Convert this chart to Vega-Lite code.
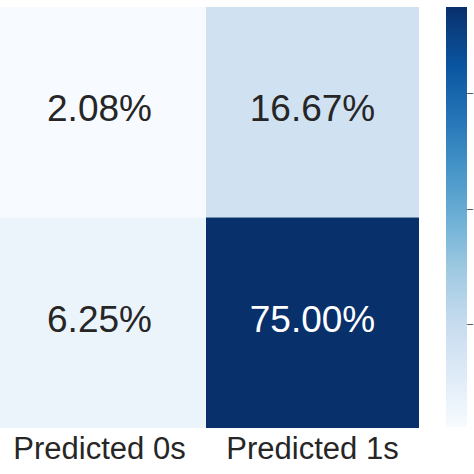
{
  "$schema": "https://vega.github.io/schema/vega-lite/v6.json",
  "width": 426,
  "height": 421,
  "autosize": {"type": "none"},
  "padding": {"left": -7, "top": 7, "right": 55, "bottom": 46},
  "background": "white",
  "config": {"view": {"stroke": null}, "font": "Liberation Sans"},
  "data": {
    "values": [
      {"actual": "Actual 0s", "predicted": "Predicted 0s", "pct": 2.08, "label": "2.08%"},
      {"actual": "Actual 0s", "predicted": "Predicted 1s", "pct": 16.67, "label": "16.67%"},
      {"actual": "Actual 1s", "predicted": "Predicted 0s", "pct": 6.25, "label": "6.25%"},
      {"actual": "Actual 1s", "predicted": "Predicted 1s", "pct": 75.0, "label": "75.00%"}
    ]
  },
  "encoding": {
    "x": {
      "field": "predicted", "type": "nominal", "sort": ["Predicted 0s", "Predicted 1s"],
      "scale": {"paddingInner": 0, "paddingOuter": 0},
      "axis": {"title": null, "orient": "bottom", "labelAngle": 0, "ticks": false, "domain": false, "labelPadding": 6, "labelFontSize": 31, "labelColor": "#262626", "labelFont": "Liberation Sans"}
    },
    "y": {
      "field": "actual", "type": "nominal", "sort": ["Actual 0s", "Actual 1s"],
      "scale": {"paddingInner": 0, "paddingOuter": 0},
      "axis": null
    }
  },
  "layer": [
    {
      "mark": {"type": "rect"},
      "encoding": {
        "color": {
          "field": "pct", "type": "quantitative",
          "scale": {
            "domain": [2.08, 11.195, 20.31, 29.425, 38.54, 47.655, 56.77, 65.885, 75],
            "range": ["#f7fbff", "#deebf7", "#c6dbef", "#9ecae1", "#6baed6", "#4292c6", "#2171b5", "#08519c", "#08306b"]
          },
          "legend": {
            "title": null, "orient": "right", "offset": 27, "padding": 0,
            "gradientLength": 420, "gradientThickness": 21, "gradientStrokeWidth": 0,
            "values": [20, 40, 60], "labelExpr": "'–'", "labelFontSize": 11, "labelOffset": 0, "labelColor": "#333333"
          }
        }
      }
    },
    {
      "mark": {"type": "text", "fontSize": 37, "font": "Liberation Sans", "baseline": "middle", "dy": -2},
      "encoding": {
        "text": {"field": "label", "type": "nominal"},
        "color": {
          "condition": {"test": "datum.pct > 40", "value": "#ffffff"},
          "value": "#262626"
        }
      }
    }
  ]
}
